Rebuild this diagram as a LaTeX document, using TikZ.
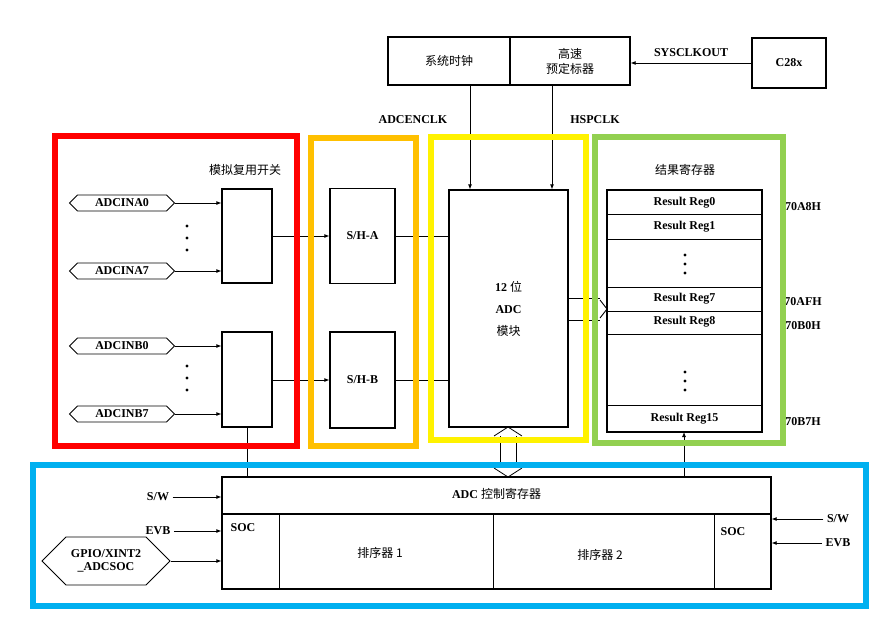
\documentclass[tikz,border=0pt]{standalone}
\usepackage{fontspec}
\setmainfont{Liberation Serif}
\newfontfamily\cjk{Noto Sans CJK SC}
\usetikzlibrary{shapes.misc,shapes.geometric,shapes.symbols,arrows.meta}
\definecolor{fo}{HTML}{FFC000}
\definecolor{fg}{HTML}{92D050}
\definecolor{fb}{HTML}{00B0F0}
\begin{document}
\begin{tikzpicture}[x=1pt,y=-1pt,
  box/.style={draw,line width=1.3pt,inner sep=0pt},
  lbl/.style={font=\bfseries\fontsize{12}{13}\selectfont},
  clbl/.style={font=\cjk\fontsize{12}{15}\selectfont},
  pin/.style={draw,line width=0.9pt,signal,signal to=east and west,inner sep=1.5pt,minimum height=16pt,minimum width=105pt,font=\bfseries\fontsize{12}{13}\selectfont},
  ar/.style={-{Latex[length=5pt,width=4pt]},line width=0.8pt},
  frame/.style={line width=6pt}]
\useasboundingbox (0,0) rectangle (893,632);
% top
\node[box,minimum width=122pt,minimum height=48pt,clbl] (clk) at (449,61) {系统时钟};
\node[box,minimum width=120pt,minimum height=48pt,clbl,align=center] (pre) at (570,61) {高速\\预定标器};
\node[box,minimum width=74pt,minimum height=50pt,lbl] (c28) at (789,63) {C28x};
\draw[ar] (c28.west) -- node[above,lbl,pos=0.5,yshift=3pt]{SYSCLKOUT} (pre.east |- c28.west);
% ADC
\node[box,minimum width=119pt,minimum height=237pt,align=center,font=\fontsize{12}{22}\selectfont] (adc) at (508.5,308.5) {\textbf{12} {\cjk 位}\\\textbf{ADC}\\{\cjk 模块}};
\coordinate (c1) at (470,85); \coordinate (c2) at (552,85);
\draw[ar] (c1) -- (c1 |- adc.north);
\draw[ar] (c2) -- (c2 |- adc.north);
\node[lbl] (l1) at (413,120) {ADCENCLK};
\node[lbl] (l2) at (595,120) {HSPCLK};
% results
\node[clbl] (rt) at (685,170) {结果寄存器};
\node[box,minimum width=155pt,minimum height=242pt] (res) at (684.5,311) {};
\foreach \y in {214,239,287,311,334,405} \draw[line width=0.9pt] (607,\y) -- (762,\y);
\node[lbl] (r0) at (684.5,203) {Result Reg0};
\node[lbl] (r1) at (684.5,227) {Result Reg1};
\node[lbl] (r7) at (684.5,299) {Result Reg7};
\node[lbl] (r8) at (684.5,322) {Result Reg8};
\node[lbl] (r15) at (684.5,419) {Result Reg15};
\node[lbl] at (803,207) {70A8H};
\node[lbl] at (803,302) {70AFH};
\node[lbl] at (803,326) {70B0H};
\node[lbl] at (803,422) {70B7H};
\foreach \y in {255,264,273,372,381,390} \fill (685,\y) circle (1.6pt);
\draw[line width=0.8pt] (568,298) -- (600,298) (568,320) -- (600,320);
\draw[line width=0.9pt] (600,300) -- (607,309) -- (600,318);
% muxes
\node[clbl] (mt) at (245,170) {模拟复用开关};
\node[box,minimum width=50pt,minimum height=94pt] (ma) at (247,236) {};
\node[box,minimum width=50pt,minimum height=95pt] (mb) at (247,379.5) {};
\node[pin] (a0) at (122,203) {ADCINA0};
\node[pin] (a7) at (122,271) {ADCINA7};
\node[pin] (b0) at (122,346) {ADCINB0};
\node[pin] (b7) at (122,414) {ADCINB7};
\draw[ar] (a0.east) -- (ma.west |- a0.east);
\draw[ar] (a7.east) -- (ma.west |- a7.east);
\draw[ar] (b0.east) -- (mb.west |- b0.east);
\draw[ar] (b7.east) -- (mb.west |- b7.east);
\foreach \y in {226,238,250,366,378,390} \fill (187,\y) circle (1.6pt);
% S/H
\node[box,minimum width=65pt,minimum height=95pt,lbl] (sha) at (362.5,236) {S/H-A};
\node[box,minimum width=65pt,minimum height=96pt,lbl] (shb) at (362.5,380) {S/H-B};
\draw[ar] (ma.east) -- (sha.west);
\draw[ar] (mb.east |- shb.west) -- (shb.west);
\draw[line width=0.8pt] (sha.east) -- (adc.west |- sha.east);
\draw[line width=0.8pt] (shb.east) -- (adc.west |- shb.east);
% control
\node[box,minimum width=549pt,minimum height=112pt] (ctl) at (496.5,533) {};
\draw[line width=1.1pt] (222,514) -- (771,514);
\draw[line width=0.9pt] (279,514) -- (279,589) (493,514) -- (493,589) (714,514) -- (714,589);
\node[font=\fontsize{12}{15}\selectfont] (ct) at (496.5,494) {\textbf{ADC} {\cjk 控制寄存器}};
\node[lbl] (soc1) at (243,528) {SOC};
\node[lbl] (soc2) at (733,532) {SOC};
\node[clbl] (s1) at (380,553) {排序器 1};
\node[clbl] (s2) at (600,555) {排序器 2};
\node[lbl] (sw1) at (158,497) {S/W};
\node[lbl] (evb1) at (158,531) {EVB};
\node[pin,align=center,minimum height=48pt,minimum width=128pt,inner sep=1pt] (gp) at (106,561) {GPIO/XINT2\\\_ADCSOC};
\draw[ar] (sw1.east) -- (ctl.west |- sw1.east);
\draw[ar] (evb1.east) -- (ctl.west |- evb1.east);
\draw[ar] (gp.east) -- (ctl.west |- gp.east);
\node[lbl] (sw2) at (838,519) {S/W};
\node[lbl] (evb2) at (838,543) {EVB};
\draw[ar] (sw2.west) -- (ctl.east |- sw2.west);
\draw[ar] (evb2.west) -- (ctl.east |- evb2.west);
% vertical links
\draw[line width=0.8pt] (mb.south) -- (mb.south |- ctl.north);
\draw[ar] (684,477) -- (684,432);
\draw[line width=0.8pt] (500,436) -- (500,468) (516,436) -- (516,468);
\draw[line width=0.8pt] (494,436) -- (508,427) -- (522,436);
\draw[line width=0.8pt] (494,468) -- (508,477) -- (522,468);
% frames
\draw[frame,red] (55,136) rectangle (297,446);
\draw[frame,fo] (311,138) rectangle (416,446);
\draw[frame,yellow] (431,137) rectangle (586,440);
\draw[frame,fg] (595,137) rectangle (783,443);
\draw[frame,fb] (33,465) rectangle (866,606);
\end{tikzpicture}
\end{document}
